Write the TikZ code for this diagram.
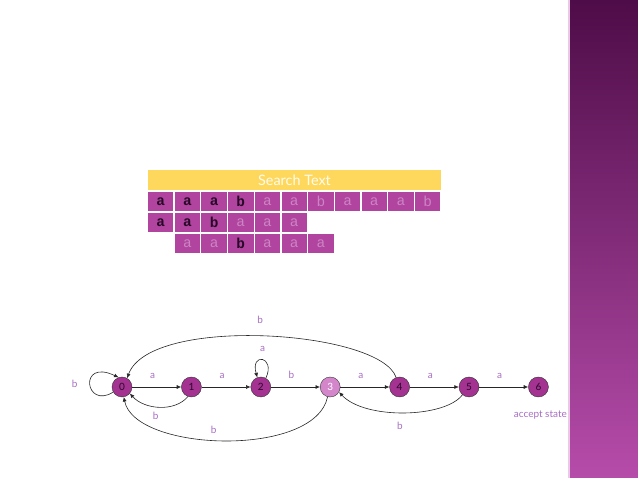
\documentclass[tikz,border=0pt]{standalone}
\usepackage{fontspec}
\setmainfont{Lato}
\newfontfamily\cellfont{Liberation Mono}
\usepackage{tikz}
\usetikzlibrary{arrows.meta, positioning, calc}
\definecolor{cellmag}{RGB}{176, 68, 158}
\definecolor{headyellow}{RGB}{253, 216, 92}
\definecolor{dimtext}{RGB}{204, 132, 196}
\definecolor{darktext}{RGB}{40, 10, 40}
\definecolor{lblpurple}{RGB}{168, 110, 196}
\definecolor{statemag}{RGB}{163, 50, 145}
\definecolor{statelight}{RGB}{212, 134, 202}
\definecolor{bartop}{RGB}{78, 12, 72}
\definecolor{barbot}{RGB}{182, 76, 170}

\begin{document}
\begin{tikzpicture}[
    x=1pt, y=-1pt,
    every node/.style={font=\normalsize},
    cell/.style={rectangle, fill=cellmag, minimum width=25.4pt, minimum height=19pt, inner sep=0pt},
    cellhit/.style={text=darktext, font=\cellfont\bfseries\Large},
    celldim/.style={text=dimtext, font=\cellfont\Large},
    state/.style={circle, draw=black!80, fill=statemag, minimum size=20pt, inner sep=0pt, font=\normalsize, text=darktext},
    lbl/.style={text=lblpurple, font=\normalsize},
    arrow/.style={-{Latex[length=4.5pt, width=4pt]}, black!85, semithick}
]
\useasboundingbox (0,0) rectangle (638,478);

% side bar
\shade[top color=bartop, bottom color=barbot] (568,0) rectangle (638,478);
\fill[white!70!barbot] (568,0) rectangle (569.5,478);

% search text table
\node[rectangle, fill=headyellow, minimum width=293pt, minimum height=20pt, inner sep=0pt, text=white!90!headyellow, font=\Large] (head) at (294.5,180) {Search Text};
\foreach \ch/\st [count=\i from 0] in {a/cellhit,a/cellhit,a/cellhit,b/cellhit,a/celldim,a/celldim,b/celldim,a/celldim,a/celldim,a/celldim,b/celldim}
    \node[cell, \st] (top\i) at (160.7+\i*26.7, 201.5) {\ch};
\foreach \ch/\st [count=\i from 0] in {a/cellhit,a/cellhit,b/cellhit,a/celldim,a/celldim,a/celldim}
    \node[cell, \st] (mid\i) at (160.7+\i*26.7, 222.5) {\ch};
\foreach \ch/\st [count=\i from 1] in {a/celldim,a/celldim,b/cellhit,a/celldim,a/celldim,a/celldim}
    \node[cell, \st] (low\i) at (160.7+\i*26.7, 243.5) {\ch};

% automaton states
\node[state] (s0) at (122,387) {0};
\node[state, right=49pt of s0] (s1) {1};
\node[state, right=49pt of s1] (s2) {2};
\node[state, right=49pt of s2, fill=statelight, text=white] (s3) {3};
\node[state, right=49pt of s3] (s4) {4};
\node[state, right=49pt of s4] (s5) {5};
\node[state, right=49pt of s5] (s6) {6};

% forward transitions
\draw[arrow] (s0) -- node[lbl, above=5pt, xshift=-4pt] {a} (s1);
\draw[arrow] (s1) -- node[lbl, above=5pt, xshift=-4pt] {a} (s2);
\draw[arrow] (s2) -- node[lbl, above=5pt, xshift=-4pt] {b} (s3);
\draw[arrow] (s3) -- node[lbl, above=5pt, xshift=-4pt] {a} (s4);
\draw[arrow] (s4) -- node[lbl, above=5pt, xshift=-4pt] {a} (s5);
\draw[arrow] (s5) -- node[lbl, above=5pt, xshift=-4pt] {a} (s6);

% fall-back transitions
\draw[arrow] (s0.210) .. controls (85,410) and (78,358) .. node[lbl, left=9pt] {b} (s0.110);
\draw[arrow] (s2.60) .. controls (276,356) and (250,352) .. node[lbl, above=5pt] {a} (s2.110);
\draw[arrow] (s4.110) .. controls (380,330) and (150,315) .. node[lbl, above=9pt, xshift=-4pt] {b} (s0.60);
\draw[arrow] (s1.250) .. controls (175,412) and (145,410) .. node[lbl, below=1pt, xshift=-4pt] {b} (s0.-40);
\draw[arrow] (s3.255) .. controls (315,458) and (135,452) .. node[lbl, above=3pt, pos=0.54] {b} (s0.-80);
\draw[arrow] (s5.230) .. controls (445,418) and (365,420) .. node[lbl, below=6pt, xshift=-4pt] {b} (s3.-30);

\node[lbl, below=10pt of s6, xshift=2pt] (acc) {accept state};

\end{tikzpicture}
\end{document}
